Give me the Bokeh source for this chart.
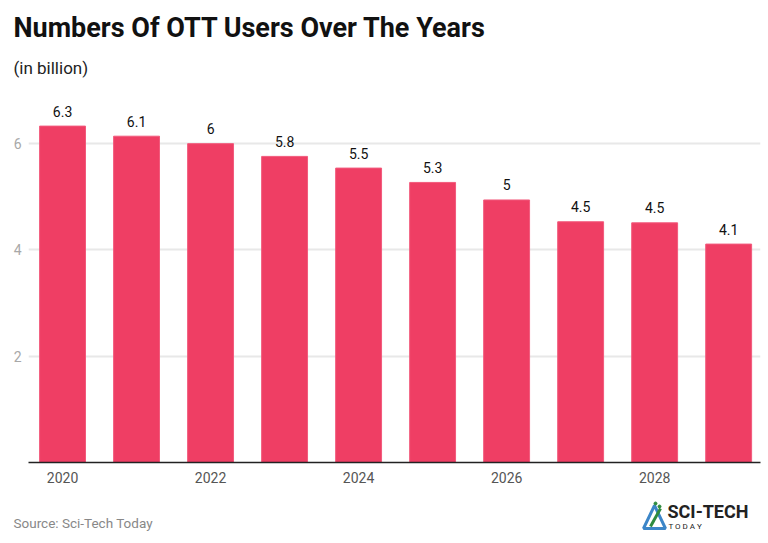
from bokeh.plotting import figure
from bokeh.layouts import column
from bokeh.models import Range1d, FixedTicker, ColumnDataSource
from bokeh.core.properties import value
from bokeh.embed import file_html
from bokeh.resources import INLINE

# data
years = [2020, 2021, 2022, 2023, 2024, 2025, 2026, 2027, 2028, 2029]
users = [6.33, 6.14, 6.0, 5.76, 5.54, 5.27, 4.94, 4.53, 4.51, 4.11]
bar_labels = ["6.3", "6.1", "6", "5.8", "5.5", "5.3", "5", "4.5", "4.5", "4.1"]
x_ticks = [2020, 2022, 2024, 2026, 2028]
y_ticks = [2, 4, 6]

FONT = "Roboto"
BAR = "#EF3E64"
W = 768
LEFT, RIGHT = 28, 8


def blank(height):
    # header / footer strip in page pixels, y grows downward, no axes at all
    f = figure(width=W, height=height, output_backend="svg", toolbar_location=None,
               x_range=Range1d(0, W), y_range=Range1d(height, 0), title=None,
               x_axis_location=None, y_axis_location=None)
    f.min_border = 0
    f.grid.visible = False
    f.outline_line_color = None
    return f


# header
head = blank(90)
head.text(x=[13], y=[27], text=["Numbers Of OTT Users Over The Years"],
          text_font=value(FONT), text_font_size="27px", text_font_style="bold",
          text_color="#111111", text_baseline="middle")
head.text(x=[13], y=[67], text=["(in billion)"],
          text_font=value(FONT), text_font_size="17px",
          text_color="#222222", text_baseline="middle")

# main chart
src = ColumnDataSource(data=dict(year=years, users=users, label=bar_labels))

p = figure(width=W, height=402, output_backend="svg", toolbar_location=None,
           x_range=Range1d(2019.54, 2029.43), y_range=Range1d(0, 7))
p.title.visible = False
p.min_border_left = LEFT
p.min_border_right = RIGHT
p.min_border_top = 0
p.min_border_bottom = 30
p.outline_line_color = None

p.vbar(x="year", top="users", width=0.62, bottom=0, source=src,
       fill_color=BAR, line_color="#F25A7C", line_width=1)

p.text(x="year", y="users", text="label", source=src, y_offset=-15,
       text_align="center", text_baseline="middle",
       text_font=value(FONT), text_font_size="14px", text_color="#111111")

p.xaxis.ticker = FixedTicker(ticks=x_ticks)
p.xaxis.axis_line_color = "#222222"
p.xaxis.axis_line_width = 1.5
p.xaxis.major_tick_line_color = None
p.xaxis.major_tick_out = 0
p.xaxis.minor_tick_line_color = None
p.xaxis.minor_tick_out = 0
p.xaxis.major_label_standoff = 9
p.xaxis.major_label_text_font = FONT
p.xaxis.major_label_text_font_size = "14px"
p.xaxis.major_label_text_color = "#555555"

p.yaxis.ticker = FixedTicker(ticks=y_ticks)
p.yaxis.axis_line_color = None
p.yaxis.major_tick_line_color = None
p.yaxis.major_tick_out = 0
p.yaxis.minor_tick_line_color = None
p.yaxis.minor_tick_out = 0
p.yaxis.major_label_standoff = 7
p.yaxis.major_label_text_font = FONT
p.yaxis.major_label_text_font_size = "14px"
p.yaxis.major_label_text_color = "#A8A8A8"

p.xgrid.grid_line_color = None
p.ygrid.ticker = FixedTicker(ticks=y_ticks)
p.ygrid.grid_line_color = "#E8E8E8"
p.ygrid.grid_line_width = 2

# footer: source and logo
foot = blank(51)
foot.text(x=[13], y=[30], text=["Source: Sci-Tech Today"],
          text_font=value(FONT), text_font_size="13.5px",
          text_color="#888888", text_baseline="middle")
foot.patch(x=[643, 654, 665], y=[36, 13, 36], fill_color=None,
           line_color="#3C86C8", line_width=3)
foot.line(x=[650, 660], y=[34, 16], line_color="#2E8B3E", line_width=3)
foot.scatter(x=[655, 659], y=[11, 14], size=3, color="#2E8B3E")
foot.text(x=[667], y=[19], text=["SCI-TECH"],
          text_font=value(FONT), text_font_size="18px", text_font_style="bold",
          text_color="#222222", text_baseline="middle")
foot.text(x=[668], y=[34], text=["T O D A Y"],
          text_font=value(FONT), text_font_size="8px",
          text_color="#222222", text_baseline="middle")

# nested columns so the strips keep their own full-width frames
layout = column(column(head), p, column(foot), spacing=0)
open("out.html", "w").write(file_html(layout, INLINE))
